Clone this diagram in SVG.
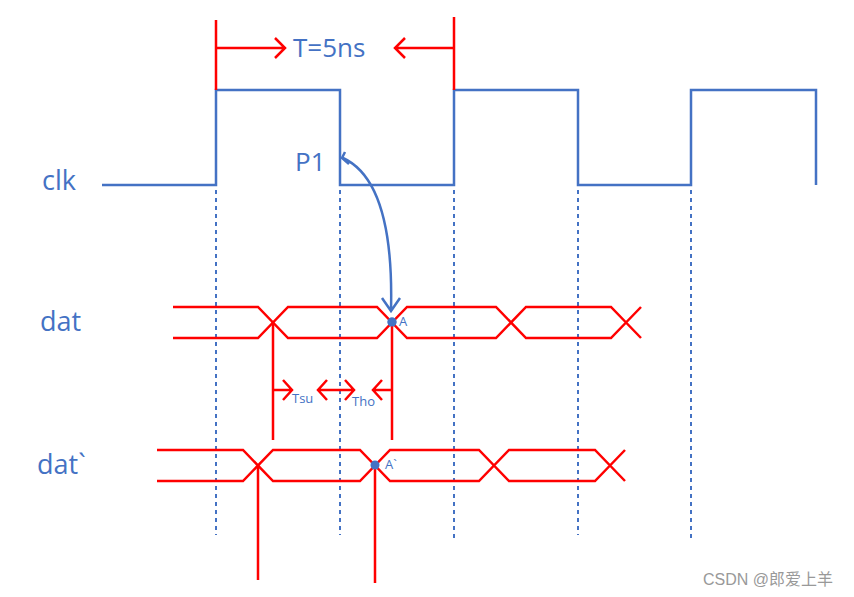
<svg xmlns="http://www.w3.org/2000/svg" width="854" height="597" viewBox="0 0 854 597">
<style>
.b{stroke:#4472c4;stroke-width:2.5;fill:none}
.d{stroke:#4472c4;stroke-width:2;stroke-dasharray:4 4;fill:none}
.r{stroke:#ff0000;stroke-width:2.5;fill:none}
.t{font-family:"Open Sans","Liberation Sans",sans-serif;fill:#4472c4}
</style>
<rect width="854" height="597" fill="#fff"/>
<g id="clk"><polyline class="b" points="102,185 216,185 216,90 340,90 340,185 454,185 454,90 578,90 578,185 691,185 691,90 816,90 816,185"/>
<text class="t" x="42" y="190" font-size="27">clk</text></g>
<g id="grid"><path class="d" d="M216,190V535M340,190V535M454,190V540M578,190V535M691,190V540"/></g>
<g id="period"><path class="r" d="M216,20V90M454,17V90M216,48H285M275,38L285,48L275,58M454,48H395M405,38L395,48L405,58"/>
<text class="t" x="293" y="57" font-size="26">T=5ns</text></g>
<g id="dat"><path class="r" d="M173,307H258L288,338H377L407,307H496L526,338H611L641,307M173,338H258L288,307H377L407,338H496L526,307H611L641,338"/>
<text class="t" x="40" y="331" font-size="27">dat</text>
<circle cx="392" cy="322" r="4.5" fill="#4472c4"/><text class="t" x="399" y="326" font-size="13">A</text></g>
<g id="dat2"><path class="r" d="M157,450H243L273,481H360L390,450H479L509,481H595L625,450M157,481H243L273,450H360L390,481H479L509,450H595L625,481"/>
<text class="t" x="37" y="474" font-size="27">dat`</text></g>
<g id="timing"><path class="r" d="M273,322V440M392,322V440M258,465V580M375,465V583M273,390H292M283,380L292,390L283,400M318,390H354M327,380L318,390L327,400M345,380L354,390L345,400M392,390H373M382,380L373,390L382,400"/>
<text class="t" x="292" y="403" font-size="13">Tsu</text><text class="t" x="352" y="406" font-size="13">Tho</text></g>
<g id="pts"><circle cx="392" cy="322" r="4.5" fill="#4472c4"/><circle cx="375" cy="465" r="4.5" fill="#4472c4"/><text class="t" x="385" y="469" font-size="13">A`</text></g>
<g id="connectors"><path class="b" d="M343,158C380,175 393,230 391,310M382,298L391,311L400,298M345,152L342,158L349,164"/><text class="t" x="295" y="171" font-size="26">P1</text></g>
<text x="703" y="585" font-family="'Liberation Sans','Noto Sans CJK SC',sans-serif" font-size="16" fill="#999">CSDN @郎爱上羊</text>
</svg>
